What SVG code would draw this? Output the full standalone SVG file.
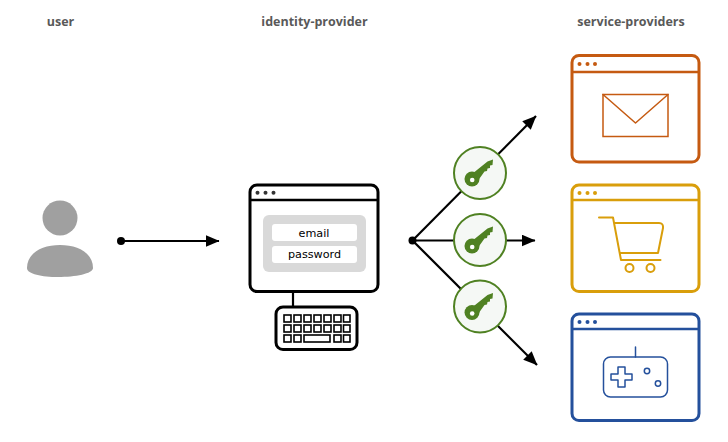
<svg xmlns="http://www.w3.org/2000/svg" width="728" height="442" viewBox="0 0 728 442">
<style>
.h{font-family:"Open Sans","Liberation Sans",sans-serif;font-weight:700;font-size:12.500px;fill:#595959;text-anchor:middle}
.f{font-family:"DejaVu Sans","Liberation Sans",sans-serif;font-size:11.200px;fill:#000;text-anchor:middle}
.w{fill:#fff;stroke-width:3}
.n{fill:none;stroke-linejoin:round;stroke-linecap:round}
.c{stroke:#000;stroke-width:2.2;fill:none}
.k{fill:#fff;stroke:#000;stroke-width:1.6}
.b{fill:#f5f8f5;stroke:#4f8122;stroke-width:2}
</style>
<defs>
<marker id="a" viewBox="0 0 14 12" refX="13.5" refY="6" markerWidth="14" markerHeight="12" markerUnits="userSpaceOnUse" orient="auto"><path d="M0 0L14 6L0 12Z" fill="#000"/></marker>
<g id="key"><circle cx="-8" cy="6" r="7.500" fill="#4f8122"/><path d="M-8 1L7.500-11.500L13-13.500L12.500-8L10-7.500L10-5L7.500-4.500L7-2L4.500-1.500L-3 9Z" fill="#4f8122"/><circle cx="-7.800" cy="7" r="2.300" fill="#fff"/></g>
</defs>
<text class="h" x="60.500" y="26">user</text>
<text class="h" x="314.500" y="26">identity-provider</text>
<text class="h" x="631" y="26">service-providers</text>
<g id="connectors">
<circle cx="121" cy="241" r="4"/>
<path class="c" d="M121 241H219" marker-end="url(#a)"/>
<path class="c" d="M293 291V306"/>
<circle cx="412.500" cy="240.500" r="4"/>
<path class="c" d="M412.500 240.500L536 116" marker-end="url(#a)"/>
<path class="c" d="M412.500 240.500H535" marker-end="url(#a)"/>
<path class="c" d="M412.500 240.500L537 365" marker-end="url(#a)"/>
</g>
<g id="user" fill="#a0a0a0">
<circle cx="60" cy="218" r="17.500"/>
<path d="M27 268C27 253 42 245 60 245C78 245 93 253 93 268C93 279 27 281 27 268Z"/>
</g>
<g id="identity-provider">
<rect class="w" x="250" y="185" width="128" height="106.500" rx="7" stroke="#000"/>
<path d="M250 200H378" stroke="#000" stroke-width="2.500"/>
<g fill="#333"><circle cx="257.500" cy="192.700" r="2"/><circle cx="265.500" cy="192.700" r="2"/><circle cx="273.500" cy="192.700" r="2"/></g>
<rect x="263" y="215" width="103" height="57" rx="6" fill="#d9d9d9"/>
<rect x="272" y="224" width="85" height="17" rx="3" fill="#fff"/>
<rect x="272" y="246" width="85" height="17" rx="3" fill="#fff"/>
<text class="f" x="314" y="236.500">email</text>
<text class="f" x="314.500" y="258">password</text>
</g>
<g id="keyboard">
<rect class="w" x="276" y="307" width="81" height="42.500" rx="7" stroke="#000"/>
<g class="keys">
<rect class="k" x="284" y="315" width="7" height="7"/><rect class="k" x="294" y="315" width="7" height="7"/><rect class="k" x="304" y="315" width="7" height="7"/><rect class="k" x="314" y="315" width="7" height="7"/><rect class="k" x="324" y="315" width="7" height="7"/><rect class="k" x="334" y="315" width="7" height="7"/><rect class="k" x="343.500" y="315" width="6.500" height="7"/>
<rect class="k" x="284" y="325" width="7" height="7"/><rect class="k" x="294" y="325" width="7" height="7"/><rect class="k" x="304" y="325" width="7" height="7"/><rect class="k" x="314" y="325" width="7" height="7"/><rect class="k" x="324" y="325" width="7" height="7"/><rect class="k" x="334" y="325" width="7" height="7"/><rect class="k" x="343.500" y="325" width="6.500" height="7"/>
<rect class="k" x="284" y="335" width="7" height="7"/><rect class="k" x="294" y="335" width="7" height="7"/><rect class="k" x="304" y="335" width="26" height="7"/><rect class="k" x="334" y="335" width="7" height="7"/><rect class="k" x="343.500" y="335" width="6.500" height="7"/>
</g>
</g>
<g id="key-1"><circle class="b" cx="480" cy="173" r="26"/><use href="#key" x="480" y="173"/></g>
<g id="key-2"><circle class="b" cx="480" cy="240" r="26"/><use href="#key" x="480" y="240"/></g>
<g id="key-3"><circle class="b" cx="480" cy="306.500" r="26"/><use href="#key" x="480" y="306.500"/></g>
<g id="mail" stroke="#c55a11">
<rect class="w" x="572" y="55.500" width="127" height="106.500" rx="7"/>
<path d="M572 72H699" stroke-width="2.500"/>
<g fill="#c55a11" stroke="none"><circle cx="579.500" cy="64" r="2"/><circle cx="587.500" cy="64" r="2"/><circle cx="595" cy="64" r="2"/></g>
<rect x="603" y="94.500" width="65" height="42" fill="none" stroke-width="1.500"/>
<path class="n" d="M603 94.500L635.500 123L668 94.500" stroke-width="1.500"/>
</g>
<g id="shop" stroke="#d99e0b">
<rect class="w" x="572" y="185" width="127" height="106.500" rx="7"/>
<path d="M572 200H699" stroke-width="2.500"/>
<g fill="#d99e0b" stroke="none"><circle cx="579.500" cy="193" r="2"/><circle cx="587.500" cy="193" r="2"/><circle cx="595" cy="193" r="2"/></g>
<path class="n" stroke-width="2" d="M599 217.500H613L621 260H660.500M615 223H659Q663.500 223 663 228L658 253H620"/>
<circle cx="629.500" cy="268" r="4" fill="none" stroke-width="2"/>
<circle cx="650.500" cy="268" r="4" fill="none" stroke-width="2"/>
</g>
<g id="game" stroke="#24509c">
<rect class="w" x="572" y="314" width="127" height="106.500" rx="7"/>
<path d="M572 329H699" stroke-width="2.500"/>
<g fill="#24509c" stroke="none"><circle cx="579.500" cy="322" r="2"/><circle cx="587.500" cy="322" r="2"/><circle cx="595" cy="322" r="2"/></g>
<rect x="603.500" y="357" width="64" height="40" rx="7" fill="none" stroke-width="1.500"/>
<path class="n" stroke-width="1.500" d="M618 367H625V374H632V380H625V387H618V380H611V374H618ZM635.500 347V357"/>
<circle cx="647" cy="371" r="2.700" fill="none" stroke-width="1.500"/>
<circle cx="658" cy="383.500" r="2.700" fill="none" stroke-width="1.500"/>
</g>
</svg>
